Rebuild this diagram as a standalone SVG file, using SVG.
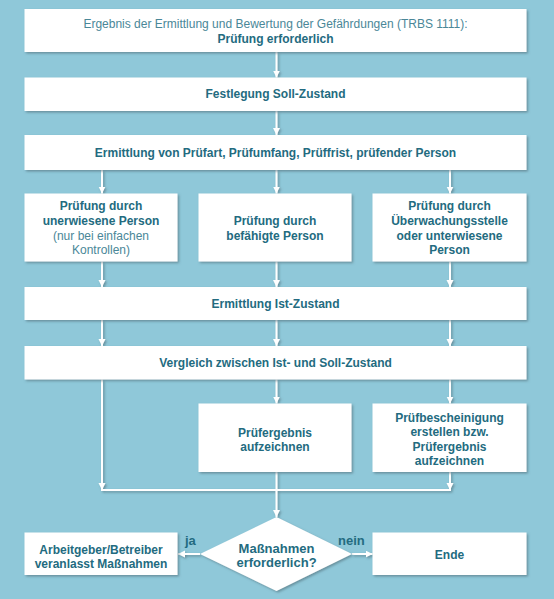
<svg xmlns="http://www.w3.org/2000/svg" width="554" height="599" viewBox="0 0 554 599">
<defs>
<style>
.bg{fill:#8fc8d9}
.box{fill:#ffffff}
.t{font-family:"Liberation Sans",Arial,sans-serif;font-size:12px;font-weight:bold;fill:#236b80;text-anchor:middle}
.r{font-weight:normal;fill:#4a8798}
.d{font-size:13px}
.lbl{font-family:"Liberation Sans",Arial,sans-serif;font-size:13px;font-weight:bold;fill:#236b80}
.c{fill:none;stroke:#ffffff;stroke-width:2}
</style>
<filter id="sh" filterUnits="userSpaceOnUse" x="0" y="0" width="554" height="599">
<feDropShadow dx="1.5" dy="1.5" stdDeviation="0.8" flood-color="#4d6b75" flood-opacity="0.6"/>
</filter>
<marker id="ah" markerUnits="userSpaceOnUse" markerWidth="8" markerHeight="8" refX="7" refY="3.5" orient="auto">
<path d="M0,0 L7,3.5 L0,7 z" fill="#ffffff"/>
</marker>
</defs>
<rect class="bg" x="0" y="0" width="554" height="599"/>

<g id="connectors" filter="url(#sh)">
<line class="c" x1="276.5" y1="52" x2="276.5" y2="77.5" marker-end="url(#ah)"/>
<line class="c" x1="276.5" y1="111" x2="276.5" y2="135" marker-end="url(#ah)"/>
<line class="c" x1="102" y1="170" x2="102" y2="193.5" marker-end="url(#ah)"/>
<line class="c" x1="276.5" y1="170" x2="276.5" y2="193.5" marker-end="url(#ah)"/>
<line class="c" x1="450" y1="170" x2="450" y2="193.5" marker-end="url(#ah)"/>
<line class="c" x1="102" y1="261.5" x2="102" y2="287" marker-end="url(#ah)"/>
<line class="c" x1="276.5" y1="261.5" x2="276.5" y2="287" marker-end="url(#ah)"/>
<line class="c" x1="450" y1="261.5" x2="450" y2="287" marker-end="url(#ah)"/>
<line class="c" x1="102" y1="320" x2="102" y2="346" marker-end="url(#ah)"/>
<line class="c" x1="276.5" y1="320" x2="276.5" y2="346" marker-end="url(#ah)"/>
<line class="c" x1="450" y1="320" x2="450" y2="346" marker-end="url(#ah)"/>
<line class="c" x1="276.5" y1="379.5" x2="276.5" y2="403.5" marker-end="url(#ah)"/>
<line class="c" x1="450" y1="379.5" x2="450" y2="403.5" marker-end="url(#ah)"/>
<line class="c" x1="102" y1="379.5" x2="102" y2="490" marker-end="url(#ah)"/>
<line class="c" x1="450" y1="472" x2="450" y2="490" marker-end="url(#ah)"/>
<line class="c" x1="101" y1="490" x2="451" y2="490"/>
<line class="c" x1="276.5" y1="472" x2="276.5" y2="517" marker-end="url(#ah)"/>
<line class="c" x1="200" y1="554" x2="178" y2="554" marker-end="url(#ah)"/>
<line class="c" x1="352" y1="554" x2="372.5" y2="554" marker-end="url(#ah)"/>
</g>

<g id="n1">
<rect class="box" x="24.5" y="9" width="502" height="43" filter="url(#sh)"/>
<text class="t r" x="275.5" y="28">Ergebnis der Ermittlung und Bewertung der Gefährdungen (TRBS 1111):</text>
<text class="t" x="275.5" y="42.5">Prüfung erforderlich</text>
</g>
<g id="n2">
<rect class="box" x="24.5" y="77.5" width="502" height="33.5" filter="url(#sh)"/>
<text class="t" x="275.5" y="97.5">Festlegung Soll-Zustand</text>
</g>
<g id="n3">
<rect class="box" x="24.5" y="135" width="502" height="35" filter="url(#sh)"/>
<text class="t" x="275.5" y="157">Ermittlung von Prüfart, Prüfumfang,  Prüffrist, prüfender Person</text>
</g>
<g id="n4">
<rect class="box" x="24.5" y="193.5" width="153" height="68" filter="url(#sh)"/>
<text class="t" x="101" y="209.5">Prüfung durch</text>
<text class="t" x="101" y="225">unerwiesene Person</text>
<text class="t r" x="101" y="239.5">(nur bei einfachen</text>
<text class="t r" x="101" y="254">Kontrollen)</text>
</g>
<g id="n5">
<rect class="box" x="198.5" y="193.5" width="153" height="68" filter="url(#sh)"/>
<text class="t" x="275" y="225">Prüfung durch</text>
<text class="t" x="275" y="239.5">befähigte Person</text>
</g>
<g id="n6">
<rect class="box" x="372.5" y="193.5" width="154" height="68" filter="url(#sh)"/>
<text class="t" x="449.5" y="209.5">Prüfung durch</text>
<text class="t" x="449.5" y="224.5">Überwachungsstelle</text>
<text class="t" x="449.5" y="239.5">oder unterwiesene</text>
<text class="t" x="449.5" y="254">Person</text>
</g>
<g id="n7">
<rect class="box" x="24.5" y="287" width="502" height="33" filter="url(#sh)"/>
<text class="t" x="275.5" y="308">Ermittlung Ist-Zustand</text>
</g>
<g id="n8">
<rect class="box" x="24.5" y="346" width="502" height="33.5" filter="url(#sh)"/>
<text class="t" x="275.5" y="366.5">Vergleich zwischen Ist- und  Soll-Zustand</text>
</g>
<g id="n9">
<rect class="box" x="198.5" y="403.5" width="153" height="68.5" filter="url(#sh)"/>
<text class="t" x="275" y="436.5">Prüfergebnis</text>
<text class="t" x="275" y="450.5">aufzeichnen</text>
</g>
<g id="n10">
<rect class="box" x="372.5" y="403.5" width="154" height="68.5" filter="url(#sh)"/>
<text class="t" x="449.5" y="421.5">Prüfbescheinigung</text>
<text class="t" x="449.5" y="435.5">erstellen bzw.</text>
<text class="t" x="449.5" y="450.5">Prüfergebnis</text>
<text class="t" x="449.5" y="464.5">aufzeichnen</text>
</g>
<g id="n11">
<polygon class="box" points="276.5,517 352,554 276.5,591 200,554" filter="url(#sh)"/>
<text class="t d" x="276.5" y="553">Maßnahmen</text>
<text class="t d" x="276.5" y="567">erforderlich?</text>
</g>
<g id="n12">
<rect class="box" x="24.5" y="532.5" width="153" height="42.5" filter="url(#sh)"/>
<text class="t" x="101" y="554">Arbeitgeber/Betreiber</text>
<text class="t" x="101" y="568">veranlasst Maßnahmen</text>
</g>
<g id="n13">
<rect class="box" x="372.5" y="532.5" width="154" height="42.5" filter="url(#sh)"/>
<text class="t" x="449.5" y="558.5">Ende</text>
</g>
<g id="labels">
<text class="lbl" x="185" y="545">ja</text>
<text class="lbl" x="338" y="545">nein</text>
</g>
</svg>
